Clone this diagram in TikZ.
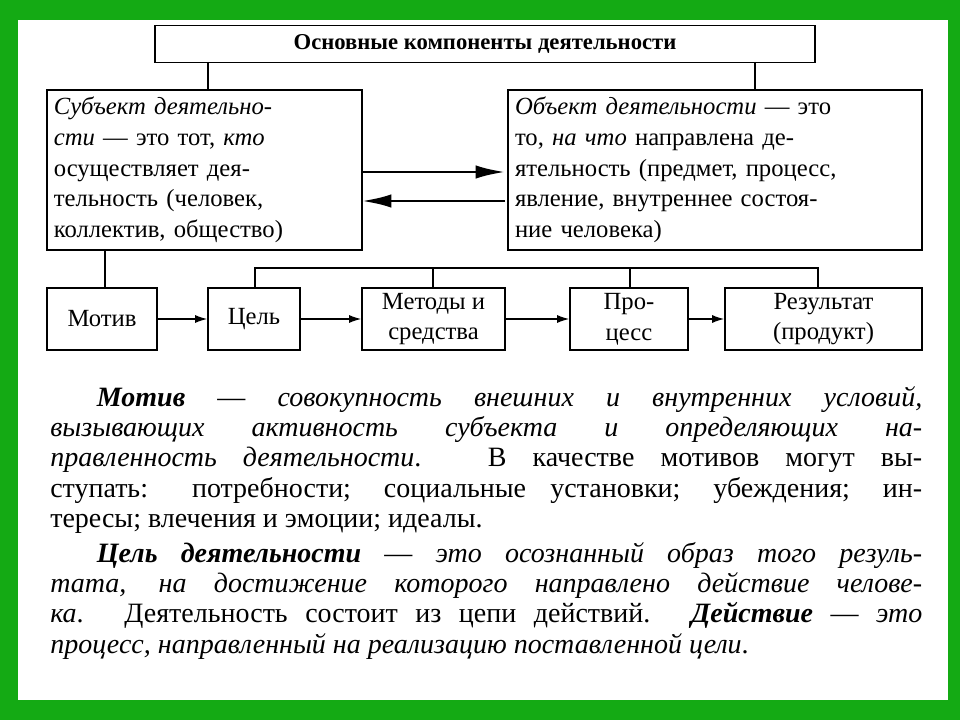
\documentclass[tikz,border=0pt]{standalone}
\usepackage{fontspec}
\setmainfont{Liberation Serif}
\usetikzlibrary{positioning}
\usetikzlibrary{arrows.meta}

\begin{document}
\begin{tikzpicture}[
        x=0.75pt, y=-0.75pt,
        box/.style={draw, line width=1.2pt, inner sep=3pt, font=\fontsize{18.5}{23}\selectfont},
        small/.style={box, align=center},
        link/.style={-{Latex[length=9pt,width=6pt]}, line width=1pt},
        bigarrow/.style={-{Latex[length=22pt,width=10pt]}, line width=2pt},
    ]
        \definecolor{frame}{RGB}{20,170,20}
        \fill[frame] (0,0) rectangle (960,720);
        \fill[white] (18,20) rectangle (948,700);

        % Title
        \node[box, minimum width=495pt, minimum height=27.75pt, font=\bfseries\fontsize{17}{21}\selectfont] (title) at (485,44) {Основные компоненты деятельности};

        % Subject and object
        \node[box, minimum width=236.25pt, minimum height=120pt, text width=226pt, align=left] (subj) at (204.5,170)
            {\textit{Субъект деятельно-}\\\textit{сти} — это тот, \textit{кто}\\осуществляет дея-\\тельность (человек,\\коллектив, общество)};
        \node[box, minimum width=310.5pt, minimum height=120pt, text width=300pt, align=left] (obj) at (715,170)
            {\textit{Объект деятельности} — это\\то, \textit{на что} направлена де-\\ятельность (предмет, процесс,\\явление, внутреннее состоя-\\ние человека)};

        \draw[line width=1pt] (208,62) -- (208,90);
        \draw[line width=1pt] (755,62) -- (755,90);
        \draw[bigarrow] (362,172) -- (505,172);
        \draw[bigarrow] (505,201) -- (362,201);

        % Row of components
        \node[small, minimum width=82.5pt, minimum height=46.5pt] (motiv) at (102,319) {Мотив};
        \node[small, minimum width=69pt, minimum height=46.5pt] (goal) at (254,319) {Цель};
        \node[small, minimum width=107.25pt, minimum height=46.5pt] (means) at (433.5,319) {Методы и\\средства};
        \node[small, minimum width=88.5pt, minimum height=46.5pt] (proc) at (629,319) {Про-\\цесс};
        \node[small, minimum width=147.75pt, minimum height=46.5pt] (result) at (823.5,319) {Результат\\(продукт)};

        \draw[line width=1pt] (105,250) -- (105,288);
        \draw[line width=1pt] (255,288) |- (818,268) -- (818,288);
        \draw[line width=1pt] (433,268) -- (433,288);
        \draw[line width=1pt] (630,268) -- (630,288);

        \draw[link] (motiv) -- (goal);
        \draw[link] (goal) -- (means);
        \draw[link] (means) -- (proc);
        \draw[link] (proc) -- (result);

        % Definitions
        \node[text width=654pt, align=justify, inner sep=0pt, anchor=north west, font=\fontsize{21}{22.8}\selectfont] (text) at (50,386) {%
            \setlength{\parskip}{3pt}%
            \hspace*{35pt}\textbf{\textit{Мотив}} — \textit{совокупность внешних и внутренних условий,}\linebreak
            \textit{вызывающих активность субъекта и определяющих на-}\linebreak
            \textit{правленность деятельности}. В качестве мотивов могут вы-\linebreak
            ступать: потребности; социальные установки; убеждения; ин-\linebreak
            тересы; влечения и эмоции; идеалы.\par
            \hspace*{35pt}\textbf{\textit{Цель деятельности}} — \textit{это осознанный образ того резуль-}\linebreak
            \textit{тата, на достижение которого направлено действие челове-}\linebreak
            \textit{ка}. Деятельность состоит из цепи действий. \textbf{\textit{Действие}} — \textit{это}\linebreak
            \textit{процесс, направленный на реализацию поставленной цели}.};
    \end{tikzpicture}
\end{document}
